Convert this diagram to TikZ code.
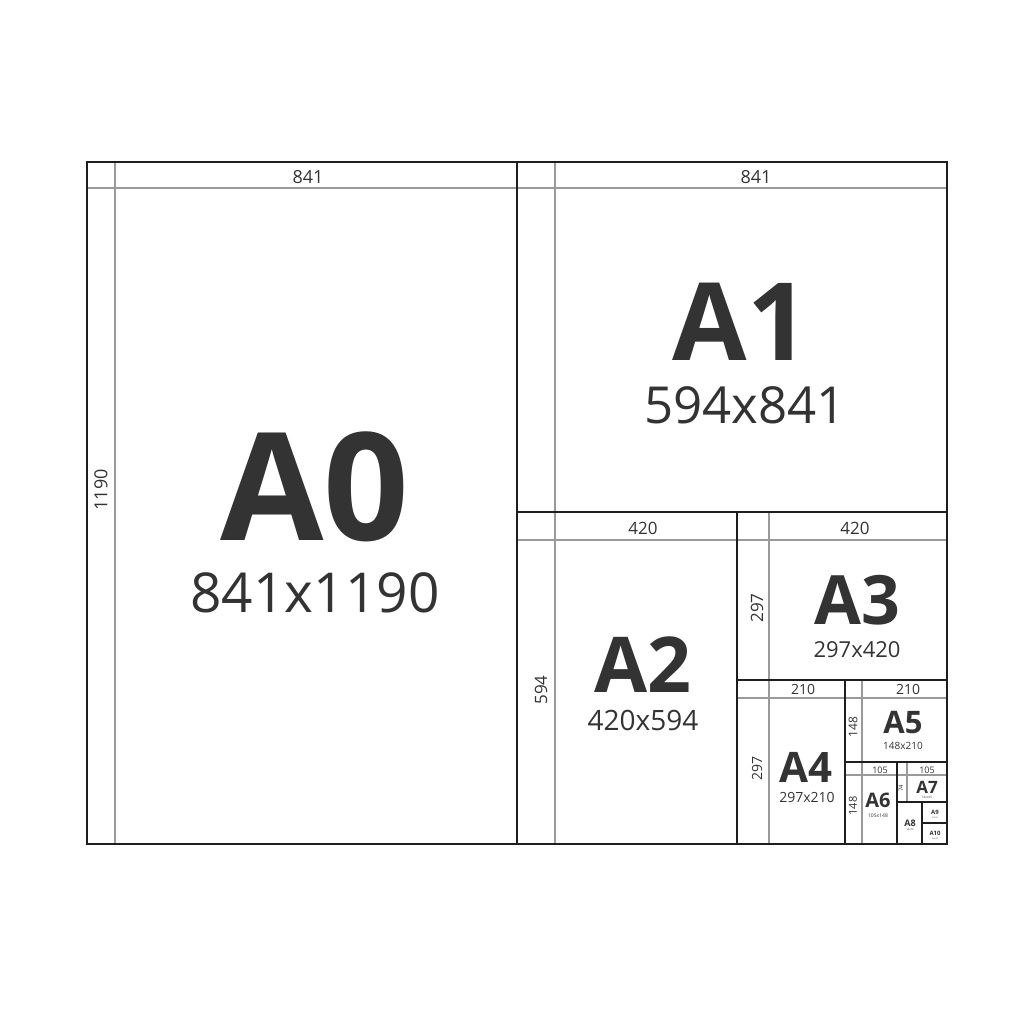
\documentclass[tikz,border=0pt]{standalone}
\usepackage{fontspec}
\setmainfont{Open Sans}
\definecolor{txt}{HTML}{333333}
\definecolor{gl}{HTML}{9A9A9A}
\definecolor{bl}{HTML}{1E1E1E}
\begin{document}
\begin{tikzpicture}[x=1pt,y=-1pt,
  guide/.style={draw=gl,line width=1.6pt},
  edge/.style={draw=bl,line width=2pt},
  lbl/.style={text=txt,inner sep=0pt,anchor=center},
  num/.style={text=txt,inner sep=0pt,anchor=base,text height=0.72em,text depth=0pt},
  big/.style={num},
]
\useasboundingbox[fill=white] (0,0) rectangle (1024,1024);
% guide lines
\draw[guide] (115,162) -- (115,844);
\draw[guide] (87,188) -- (947,188);
\draw[guide] (555,162) -- (555,844);
\draw[guide] (517,540) -- (947,540);
\draw[guide] (769,512) -- (769,844);
\draw[guide] (737,698) -- (947,698);
\draw[guide] (862,680) -- (862,844);
\draw[guide] (845,775) -- (947,775);
\draw[guide] (907,762) -- (907,802);
% sheet edges
\draw[edge] (87,162) rectangle (947,844);
\draw[edge] (517,162) -- (517,844);
\draw[edge] (517,512) -- (947,512);
\draw[edge] (737,512) -- (737,844);
\draw[edge] (737,680) -- (947,680);
\draw[edge] (845,680) -- (845,844);
\draw[edge] (845,762) -- (947,762);
\draw[edge] (897,762) -- (897,844);
\draw[edge] (897,802) -- (947,802);
\draw[edge] (922,802) -- (922,844);
\draw[edge] (922,823) -- (947,823);
% A0
\node[lbl,font=\fontsize{18}{18}\selectfont] (w0) at (308,177) {841};
\node[lbl,font=\fontsize{18}{18}\selectfont,rotate=90] (h0) at (101,490) {1190};
\node[big,font=\bfseries\fontsize{150}{150}\selectfont] (n0) at (315,540) {A0};
\node[num,font=\fontsize{55}{55}\selectfont] (d0) at (315,612) {841x1190};
% A1
\node[lbl,font=\fontsize{18}{18}\selectfont] (w1) at (756,177) {841};
\node[big,font=\bfseries\fontsize{108}{108}\selectfont] (n1) at (741,360) {A1};
\node[num,font=\fontsize{51}{51}\selectfont] (d1) at (745,423) {594x841};
% A2
\node[lbl,font=\fontsize{17}{17}\selectfont] (w2) at (643,528) {420};
\node[lbl,font=\fontsize{17}{17}\selectfont,rotate=90] (h2) at (541,690) {594};
\node[big,font=\bfseries\fontsize{77}{77}\selectfont] (n2) at (643,692) {A2};
\node[num,font=\fontsize{28}{28}\selectfont] (d2) at (643,730) {420x594};
% A3
\node[lbl,font=\fontsize{17}{17}\selectfont] (w3) at (855,528) {420};
\node[lbl,font=\fontsize{17}{17}\selectfont,rotate=90] (h3) at (757,608) {297};
\node[big,font=\bfseries\fontsize{68}{68}\selectfont] (n3) at (857,624) {A3};
\node[num,font=\fontsize{22}{22}\selectfont] (d3) at (857,657) {297x420};
% A4
\node[lbl,font=\fontsize{14}{14}\selectfont] (w4) at (803,689) {210};
\node[lbl,font=\fontsize{14}{14}\selectfont,rotate=90] (h4) at (757,768) {297};
\node[big,font=\bfseries\fontsize{42}{42}\selectfont] (n4) at (806,782) {A4};
\node[num,font=\fontsize{14}{14}\selectfont] (d4) at (807,802) {297x210};
% A5
\node[lbl,font=\fontsize{14}{14}\selectfont] (w5) at (908,689) {210};
\node[lbl,font=\fontsize{12}{12}\selectfont,rotate=90] (h5) at (853,727) {148};
\node[big,font=\bfseries\fontsize{31}{31}\selectfont] (n5) at (903,733) {A5};
\node[num,font=\fontsize{10}{10}\selectfont] (d5) at (903,749) {148x210};
% A6
\node[lbl,font=\fontsize{9}{9}\selectfont] (w6) at (880,770) {105};
\node[lbl,font=\fontsize{11}{11}\selectfont,rotate=90] (h6) at (853,806) {148};
\node[big,font=\bfseries\fontsize{20}{20}\selectfont] (n6) at (878,807) {A6};
\node[num,font=\fontsize{5}{5}\selectfont] (d6) at (878,817) {105x148};
% A7
\node[lbl,font=\fontsize{9}{9}\selectfont] (w7) at (927,770) {105};
\node[lbl,font=\fontsize{6}{6}\selectfont,rotate=90] (h7) at (901,788) {74};
\node[big,font=\bfseries\fontsize{17}{17}\selectfont] (n7) at (927,793) {A7};
\node[num,font=\fontsize{3}{3}\selectfont] (d7) at (927,798) {74x105};
% A8
\node[big,font=\bfseries\fontsize{9}{9}\selectfont] (n8) at (910,826) {A8};
\node[num,font=\fontsize{2.5}{2.5}\selectfont] (d8) at (910,830) {52x74};
% A9
\node[big,font=\bfseries\fontsize{6}{6}\selectfont] (n9) at (935,814) {A9};
\node[num,font=\fontsize{2}{2}\selectfont] (d9) at (935,818) {37x52};
% A10
\node[big,font=\bfseries\fontsize{6}{6}\selectfont] (n10) at (935,835) {A10};
\node[num,font=\fontsize{2}{2}\selectfont] (d10) at (935,839) {26x37};
\end{tikzpicture}
\end{document}
